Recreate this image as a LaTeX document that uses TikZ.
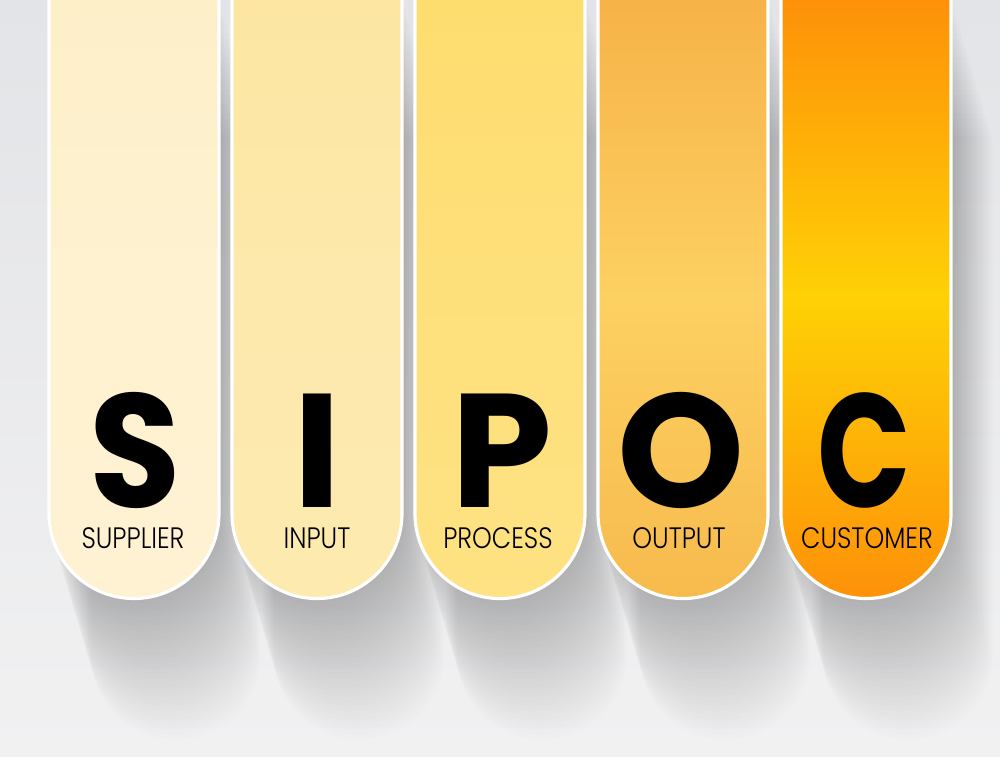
\documentclass[tikz,border=0pt]{standalone}
\usepackage{fontspec}
\newfontfamily\letterfont{Poppins}
\newfontfamily\wordfont{Poppins Light}[FakeStretch=0.85]
\definecolor{bgtop}{HTML}{E3E4E7}
\definecolor{bgbot}{HTML}{F1F1F2}
\definecolor{supA}{HTML}{FDEFC8}
\definecolor{supB}{HTML}{FEF2D1}
\definecolor{supC}{HTML}{FEF2D2}
\definecolor{inpA}{HTML}{FCE6A2}
\definecolor{inpB}{HTML}{FDE9AC}
\definecolor{inpC}{HTML}{FDEAAF}
\definecolor{proA}{HTML}{FEDD6F}
\definecolor{proB}{HTML}{FEE07B}
\definecolor{proC}{HTML}{FEE283}
\definecolor{outA}{HTML}{F6B247}
\definecolor{outB}{HTML}{FDD062}
\definecolor{outC}{HTML}{F7BA4D}
\definecolor{cusA}{HTML}{FE9009}
\definecolor{cusB}{HTML}{FED105}
\definecolor{cusC}{HTML}{FE9109}

\begin{document}
\begin{tikzpicture}[
  x=0.01cm, y=0.01cm,
  pill/.style={draw=white,line width=0.9pt},
  bigletter/.style={anchor=base,inner sep=0pt,font=\letterfont\bfseries\fontsize{46}{46}\selectfont},
  capword/.style={anchor=base,inner sep=0pt,font=\wordfont\fontsize{8.4}{9}\selectfont}
    ]
    \useasboundingbox (0,0) rectangle (1000,756);
    \clip (0,0) rectangle (1000,756);
    \fill[top color=bgtop,bottom color=bgbot] (0,0) rectangle (1000,756);
    \foreach \cx in {134,317,500,683,866}
      \foreach \k in {1,...,30}
        \fill[black,opacity=0.009,shift={(1.4*\k,-4.7*\k)}]
          (\cx-85,760) -- (\cx-85,242.5) arc[start angle=180,end angle=360,radius=85]
          -- (\cx+85,760) -- cycle;
    \foreach \cx/\ca/\cb/\cc in {134/supA/supB/supC,317/inpA/inpB/inpC,
        500/proA/proB/proC,683/outA/outB/outC,866/cusA/cusB/cusC}
      \draw[pill,top color=\ca,bottom color=\cc,middle color=\cb]
        (\cx-85,760) -- (\cx-85,242.5) arc[start angle=180,end angle=360,radius=85]
        -- (\cx+85,760) -- cycle;
    \node[bigletter] (s) at (135,249) {\scalebox{0.92}[1]{S}};
    \node[bigletter] (i) at (317,249) {I};
    \node[bigletter] (p) at (502,249) {P};
    \node[bigletter] (o) at (681,249) {O};
    \node[bigletter] (c) at (864,249) {\scalebox{0.76}[1]{C}};
    \node[capword] (supplier) at (133,208) {SUPPLIER};
    \node[capword] (input) at (317,208) {INPUT};
    \node[capword] (process) at (498,208) {PROCESS};
    \node[capword] (output) at (679,208) {OUTPUT};
    \node[capword] (customer) at (867,208) {CUSTOMER};
\end{tikzpicture}
\end{document}
